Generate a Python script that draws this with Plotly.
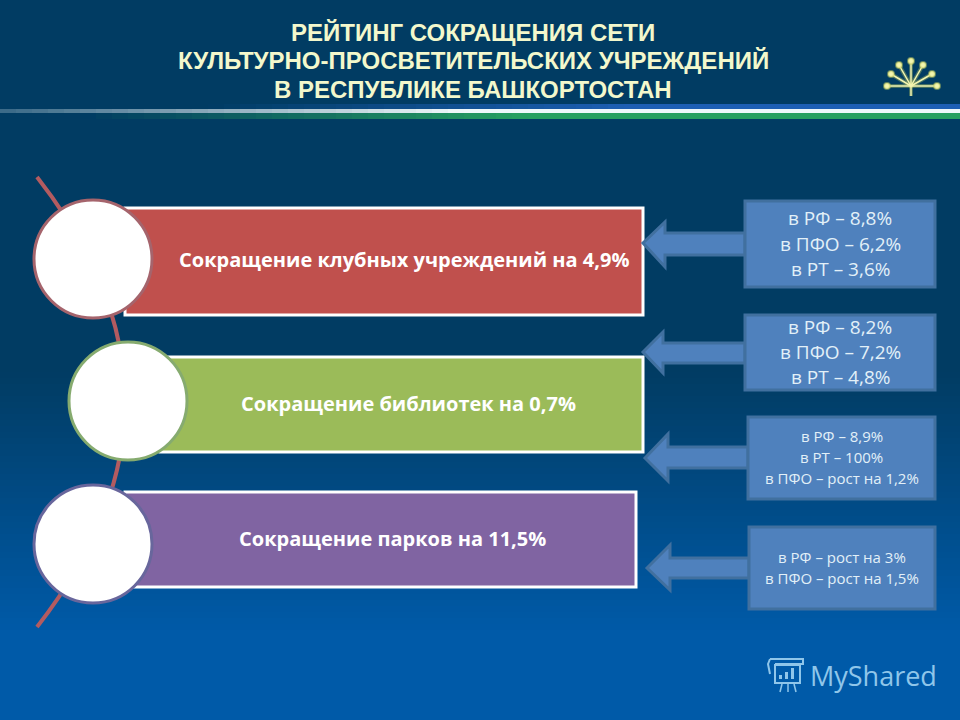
import plotly.graph_objects as go

# slide texts
title_lines = ["РЕЙТИНГ СОКРАЩЕНИЯ СЕТИ", "КУЛЬТУРНО-ПРОСВЕТИТЕЛЬСКИХ УЧРЕЖДЕНИЙ", "В РЕСПУБЛИКЕ БАШКОРТОСТАН"]
categories = ["клубных учреждений", "библиотек", "парков"]
reductions = ["4,9%", "0,7%", "11,5%"]
compare_1 = ["в РФ – 8,8%", "в ПФО – 6,2%", "в РТ – 3,6%"]
compare_2 = ["в РФ – 8,2%", "в ПФО – 7,2%", "в РТ – 4,8%"]
compare_3 = ["в РФ – 8,9%", "в РТ – 100%", "в ПФО – рост на 1,2%"]
compare_4 = ["в РФ – рост на 3%", "в ПФО – рост на 1,5%"]

# geometry of the slide, in pixels
card_boxes = [(125, 208, 643, 315), (160, 357, 643, 452), (125, 492, 636, 587)]
card_colors = ["#c0504d", "#9bbb59", "#8064a2"]
card_text_x = [404, 408, 392]
card_text_y = [259, 403, 538]
circles = [(93, 259), (128, 401), (93, 544)]
circle_colors = ["#a5646c", "#86ab6f", "#68669c"]
note_boxes = [(745, 201, 935, 287), (745, 315, 935, 390), (748, 417, 935, 499), (749, 527, 935, 609)]
note_line_y = [[218, 244, 269], [327, 352, 377], [436, 457, 478], [557, 578]]
note_sizes = [19, 19, 15, 15]
arrows = [
    (643, 243, 665, 222, 267, 233, 255, 745),
    (643, 352, 663, 332, 373, 343, 363, 745),
    (645, 458, 668, 434, 481, 447, 468, 748),
    (647, 568, 670, 545, 590, 558, 578, 749),
]
emblem_x = [887, 891, 899, 911, 923, 932, 937]
emblem_y = [86, 74, 65, 61, 65, 74, 86]


def mix(c1, c2, t):
    return "rgb(%d,%d,%d)" % tuple(round(a + (b - a) * t) for a, b in zip(c1, c2))


shapes = []

# background gradient, drawn as thin strips
for i in range(0, 720, 6):
    t = min(max((i - 370) / 260, 0), 1)
    shapes.append(dict(type="rect", x0=0, x1=960, y0=i, y1=i + 6, line_width=0, layer="below",
                       fillcolor=mix((1, 60, 99), (0, 90, 168), t)))

# header stripes fade out towards the left
for i in range(0, 960, 16):
    t = i / 960
    shapes.append(dict(type="rect", x0=i, x1=i + 16, y0=104, y1=109, line_width=0, layer="below",
                       fillcolor="#1d5fb4", opacity=min(max((t - 0.2) * 2.2, 0), 1)))
    shapes.append(dict(type="rect", x0=i, x1=i + 16, y0=109, y1=113, line_width=0, layer="below",
                       fillcolor="#eef8fa", opacity=min(0.25 + t * 1.6, 1)))
    shapes.append(dict(type="rect", x0=i, x1=i + 16, y0=113, y1=119, line_width=0, layer="below",
                       fillcolor="#26a060", opacity=min(max((t - 0.08) * 2.2, 0), 1)))

# connecting arc behind the circles
shapes.append(dict(type="path", path="M37,177 Q213,402 37,627", line=dict(color="#b35b60", width=4)))

for (x0, y0, x1, y1), color in zip(card_boxes, card_colors):
    shapes.append(dict(type="rect", x0=x0, y0=y0, x1=x1, y1=y1, fillcolor=color,
                       line=dict(color="white", width=3)))

for (cx, cy), color in zip(circles, circle_colors):
    shapes.append(dict(type="circle", x0=cx - 59, x1=cx + 59, y0=cy - 59, y1=cy + 59,
                       fillcolor="white", line=dict(color=color, width=3)))

for tip, mid, back, top, bottom, s0, s1, end in arrows:
    path = f"M{tip},{mid} L{back},{top} L{back},{s0} L{end},{s0} L{end},{s1} L{back},{s1} L{back},{bottom} Z"
    shapes.append(dict(type="path", path=path, fillcolor="#4f81bd", line=dict(color="#41709f", width=3)))

for x0, y0, x1, y1 in note_boxes:
    shapes.append(dict(type="rect", x0=x0, y0=y0, x1=x1, y1=y1, fillcolor="#4f81bd",
                       line=dict(color="#41709f", width=3)))

# emblem lines, glow first
for width, color, op in [(4, "#c8d060", 0.35), (1.5, "#f4f6b0", 1)]:
    for ex, ey in zip(emblem_x, emblem_y):
        shapes.append(dict(type="line", x0=911, y0=86, x1=ex, y1=ey, opacity=op, layer="below",
                           line=dict(color=color, width=width)))
    shapes.append(dict(type="line", x0=911, y0=86, x1=911, y1=96, opacity=op, layer="below",
                       line=dict(color=color, width=width)))

# MyShared logo
logo = "#8fc6ea"
shapes.append(dict(type="rect", x0=775, x1=800, y0=665, y1=683, line=dict(color=logo, width=2)))
shapes.append(dict(type="path", path="M770,659 L803,659 L803,664 L775,664", line=dict(color=logo, width=2)))
shapes.append(dict(type="path", path="M770,659 L768,664 L770,674", line=dict(color=logo, width=2)))
for lx0, lx1 in [(782, 780), (788, 788), (794, 796)]:
    shapes.append(dict(type="line", x0=lx0, y0=684, x1=lx1, y1=692, line=dict(color=logo, width=1.5)))
for bx, by in [(779, 675), (785, 672), (791, 668)]:
    shapes.append(dict(type="rect", x0=bx, x1=bx + 3, y0=by, y1=679, line_width=0, fillcolor=logo))

annotations = []


def add_text(x, y, text, size, color, family, bold=False):
    annotations.append(dict(x=x, y=y, text=f"<b>{text}</b>" if bold else text, showarrow=False,
                            xanchor="center", yanchor="middle",
                            font=dict(size=size, color=color, family=family)))


for y, line in zip([32, 60, 89], title_lines):
    add_text(473, y, line, 24, "#f3f8cc", "Liberation Sans", bold=True)

for x, y, cat, value in zip(card_text_x, card_text_y, categories, reductions):
    add_text(x, y, f"Сокращение {cat} на {value}", 20, "#ffffff", "Open Sans", bold=True)

notes = [compare_1, compare_2, compare_3, compare_4]
for box, ys, size, lines in zip(note_boxes, note_line_y, note_sizes, notes):
    for y, line in zip(ys, lines):
        add_text((box[0] + box[2]) / 2, y, line, size, "#e2f0f8", "Open Sans")

add_text(873, 675, "MyShared", 27, logo, "Open Sans")

fig = go.Figure(
    go.Scatter(
        x=emblem_x,
        y=emblem_y,
        mode="markers",
        marker=dict(size=6, color="#f4f6b0", line=dict(color="rgba(200,208,96,0.5)", width=2)),
        hoverinfo="skip",
    )
)

fig.update_layout(
    width=960,
    height=720,
    margin=dict(l=0, r=0, t=0, b=0),
    paper_bgcolor="#013c63",
    plot_bgcolor="rgba(0,0,0,0)",
    showlegend=False,
    shapes=shapes,
    annotations=annotations,
    xaxis=dict(range=[0, 960], visible=False, fixedrange=True),
    yaxis=dict(range=[720, 0], visible=False, fixedrange=True),
)

fig.write_html("out.html", config=dict(displayModeBar=False), post_script="document.body.style.margin='0';")
